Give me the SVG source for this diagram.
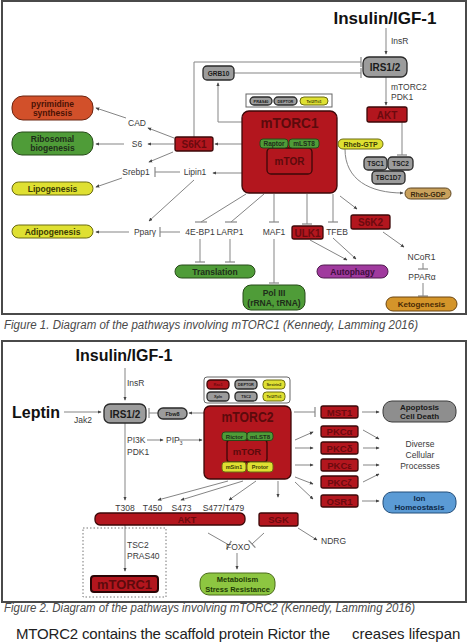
<svg xmlns="http://www.w3.org/2000/svg" width="474" height="642" viewBox="0 0 474 642">
<defs>
<marker id="a" viewBox="0 0 6 6" refX="5" refY="3" markerWidth="4" markerHeight="4" orient="auto"><path d="M0,0.5L6,3L0,5.5z" fill="#444"/></marker>
<marker id="t" viewBox="0 0 2 10" refX="1" refY="5" markerWidth="2" markerHeight="10" orient="auto" markerUnits="userSpaceOnUse"><path d="M1,0V10" stroke="#888" stroke-width="1.2"/></marker>
<style>
text{font-family:"Liberation Sans",Arial,sans-serif}
.frame{fill:#fff;stroke:#4a4a4a;stroke-width:2}
.red{fill:#b3161e;stroke:#3d0808;stroke-width:1.3}
.gray{fill:#9c9c9c;stroke:#2a2a2a;stroke-width:1.3}
.green{fill:#4f9c38;stroke:#264a18;stroke-width:1}
.yellow{fill:#dfe032;stroke:#6a6a10;stroke-width:1}
.orange{fill:#d2502a;stroke:#6b2410;stroke-width:1}
.purple{fill:#a03a9e;stroke:#4e1a4c;stroke-width:1}
.keto{fill:#d4952a;stroke:#6b4510;stroke-width:1}
.gdp{fill:#c9a15c;stroke:#5a4320;stroke-width:1}
.blue{fill:#5b9bd5;stroke:#234e7a;stroke-width:1}
.lime{fill:#8dc641;stroke:#4a6b1a;stroke-width:1}
.hdr{fill:#fff;stroke:#666;stroke-width:1}
.ln{stroke:#858585;stroke-width:1;fill:none}
.ar{marker-end:url(#a)}
.in{marker-end:url(#t)}
.bar{stroke:#888;stroke-width:1.2}
.lbl{font-size:8.5px;fill:#3a3a3a}
.c{text-anchor:middle}
.b{font-weight:bold}
.tr{font-weight:bold;fill:#6b0a0e;text-anchor:middle}
.tg{font-weight:bold;fill:#1e2e1a;text-anchor:middle}
.ty{font-weight:bold;fill:#3b3b05;text-anchor:middle}
.tk{font-weight:bold;fill:#1a1a1a;text-anchor:middle}
.cap{font-size:12px;font-style:italic;fill:#4a4a4a}
</style>
</defs>

<rect class="frame" x="2" y="1" width="464" height="313"/>
<rect class="frame" x="2" y="341" width="464" height="261"/>

<g id="connectors">
<!-- figure 1 -->
<path class="ln ar" d="M386,28V54"/>
<path class="ln in" d="M194,137V62H361"/>
<path class="ln in" d="M234,73H361"/>
<path class="ln ar" d="M242,122H218V83"/>
<path class="ln ar" d="M242,144H215"/>
<path class="ln ar" d="M174,138L148,128"/>
<path class="ln ar" d="M126,118L96,108"/>
<path class="ln ar" d="M174,144H148"/>
<path class="ln ar" d="M124,144H96"/>
<path class="ln ar" d="M242,173H213"/>
<path class="ln in" d="M180,172H155"/>
<path class="ln ar" d="M173,152L149,162"/>
<path class="ln ar" d="M122,178L96,187"/>
<path class="ln ar" d="M194,180L149,221"/>
<path class="ln in" d="M180,232H160"/>
<path class="ln ar" d="M129,232H96"/>
<path class="ln" d="M246,194L201,222"/>
<path class="bar" d="M195,222H207"/>
<path class="ln" d="M264,194L231,222"/>
<path class="bar" d="M225,222H237"/>
<path class="ln" d="M200,239V262"/>
<path class="bar" d="M195,262H205"/>
<path class="ln" d="M230,239V262"/>
<path class="bar" d="M225,262H235"/>
<path class="ln in" d="M274,194V222"/>
<path class="ln in" d="M274,239V283"/>
<path class="ln in" d="M307,194V224"/>
<path class="ln in" d="M333,194V222"/>
<path class="ln ar" d="M340,196L357,209"/>
<path class="ln ar" d="M310,240L347,260"/>
<path class="ln ar" d="M333,238L356,259"/>
<path class="ln ar" d="M383,232L404,247"/>
<path class="ln in" d="M423,263V269"/>
<path class="ln in" d="M423,283V296"/>
<path class="ln ar" d="M386,77V105"/>
<path class="ln in" d="M402,122V155"/>
<path class="ln ar" d="M345,149C345,180 370,193 403,193"/>
<!-- figure 2 -->
<path class="ln ar" d="M125,368V400"/>
<path class="ln ar" d="M64,412H101"/>
<path class="ln in" d="M158,413H149"/>
<path class="ln ar" d="M204,413H189"/>
<path class="ln ar" d="M125,423V500"/>
<path class="ln ar" d="M147,440H163"/>
<path class="ln ar" d="M178,440H202"/>
<path class="ln in" d="M294,412H315"/>
<path class="ln ar" d="M295,440L313,432"/>
<path class="ln ar" d="M295,448H313"/>
<path class="ln ar" d="M295,465H313"/>
<path class="ln ar" d="M295,477L313,484"/>
<path class="ln ar" d="M295,482L313,499"/>
<path class="ln ar" d="M362,412H379"/>
<path class="ln ar" d="M363,430L379,439"/>
<path class="ln ar" d="M363,448H379"/>
<path class="ln ar" d="M363,465H379"/>
<path class="ln ar" d="M363,482L379,474"/>
<path class="ln ar" d="M362,501H379"/>
<path class="ln ar" d="M228,481L158,500"/>
<path class="ln ar" d="M243,481L181,500"/>
<path class="ln ar" d="M256,481L229,500"/>
<path class="ln ar" d="M278,481V497"/>
<path class="ln ar" d="M298,528L317,540"/>
<path class="ln in" d="M208,533L229,545"/>
<path class="ln in" d="M264,533L252,544"/>
<path class="ln ar" d="M237,553V569"/>
<path class="ln ar" d="M125,525V571"/>
<rect x="83" y="528" width="83" height="69" fill="none" stroke="#777" stroke-width="1" stroke-dasharray="1.5,2"/>
</g>

<!-- Figure 1 nodes -->
<g id="insulin1"><text x="385" y="24" class="c b" font-size="17" fill="#111">Insulin/IGF-1</text></g>
<g id="insr1"><text x="391" y="44" class="lbl">InsR</text></g>
<g id="irs1"><rect class="gray" x="363" y="57" width="44" height="20" rx="6"/><text x="385" y="71" class="tk" font-size="10">IRS1/2</text></g>
<g id="grb10"><rect class="gray" x="203" y="66" width="31" height="14" rx="4"/><text x="218.5" y="75.5" class="tk" font-size="6.5">GRB10</text></g>
<g id="mtorc1hdr">
<rect class="hdr" x="246" y="94" width="86" height="13"/>
<rect class="gray" x="250" y="97" width="22" height="8" rx="4" stroke-width="0.8"/><text x="261" y="102.5" class="tk" font-size="3.8">PRAS40</text>
<rect class="gray" x="274" y="97" width="23" height="8" rx="4" stroke-width="0.8"/><text x="285.5" y="102.5" class="tk" font-size="3.8">DEPTOR</text>
<rect class="yellow" x="300" y="97" width="28" height="8" rx="4" stroke-width="0.8"/><text x="314" y="102.5" class="ty" font-size="3.8">Tel2/Tti1</text>
</g>
<g id="mtorc1">
<rect class="red" x="242" y="111" width="95" height="82" rx="7"/>
<text x="289.5" y="128" font-size="15" class="b c" fill="#5c0a0c" textLength="58" lengthAdjust="spacingAndGlyphs">mTORC1</text>
<rect class="red" x="267" y="148" width="45" height="26" rx="4"/>
<text x="289.5" y="165" class="b c" font-size="10" fill="#5c0a0c">mTOR</text>
<rect class="green" x="260" y="139" width="28" height="9" rx="3"/><text x="274" y="146" class="tg" font-size="6.5">Raptor</text>
<rect class="green" x="289" y="139" width="30" height="9" rx="3"/><text x="304" y="146" class="tg" font-size="6.5">mLST8</text>
</g>
<g id="s6k1"><rect class="red" x="175" y="137" width="38" height="14" rx="2"/><text x="194" y="148" class="tr" font-size="10">S6K1</text></g>
<g id="cad"><text x="137" y="126" class="lbl c">CAD</text></g>
<g id="s6"><text x="137" y="147" class="lbl c">S6</text></g>
<g id="pyrimidine"><rect class="orange" x="12" y="96" width="81" height="24" rx="11"/><text x="52.5" y="106.5" class="b c" font-size="8.5" fill="#4a1205">pyrimidine</text><text x="52.5" y="116" class="b c" font-size="8.5" fill="#4a1205">synthesis</text></g>
<g id="ribosomal"><rect class="green" x="12" y="132" width="81" height="23" rx="10"/><text x="52.5" y="141.5" class="tg" font-size="8.5">Ribosomal</text><text x="52.5" y="151" class="tg" font-size="8.5">biogenesis</text></g>
<g id="lipin1"><text x="195" y="175" class="lbl c">Lipin1</text></g>
<g id="srebp1"><text x="136" y="175" class="lbl c">Srebp1</text></g>
<g id="lipogenesis"><rect class="yellow" x="12" y="182" width="81" height="13" rx="6.5"/><text x="52.5" y="191.5" class="ty" font-size="8.5">Lipogenesis</text></g>
<g id="ppar"><text x="145" y="235" class="lbl c">Pparγ</text></g>
<g id="adipogenesis"><rect class="yellow" x="12" y="225" width="81" height="13" rx="6.5"/><text x="52.5" y="234.5" class="ty" font-size="8.5">Adipogenesis</text></g>
<g id="ebp1"><text x="200" y="235" class="lbl c">4E-BP1</text></g>
<g id="larp1"><text x="230" y="235" class="lbl c">LARP1</text></g>
<g id="translation"><rect class="green" x="175" y="265" width="80" height="13" rx="6.5"/><text x="215" y="274.5" class="tg" font-size="8.5">Translation</text></g>
<g id="maf1"><text x="274" y="235" class="lbl c">MAF1</text></g>
<g id="pol3"><rect class="green" x="243" y="285" width="62" height="25" rx="8"/><text x="274" y="295.5" class="tg" font-size="8.5">Pol III</text><text x="274" y="305.5" class="tg" font-size="8.5">(rRNA, tRNA)</text></g>
<g id="ulk1"><rect class="red" x="292" y="226" width="31" height="13" rx="2"/><text x="307.5" y="236.5" class="tr" font-size="10">ULK1</text></g>
<g id="tfeb"><text x="337" y="235" class="lbl c">TFEB</text></g>
<g id="s6k2"><rect class="red" x="351" y="215" width="39" height="14" rx="2"/><text x="370.5" y="226" class="tr" font-size="10">S6K2</text></g>
<g id="autophagy"><rect class="purple" x="317" y="265" width="71" height="13" rx="6.5"/><text x="352.5" y="274.5" class="b c" font-size="8.5" fill="#3d0f3c">Autophagy</text></g>
<g id="ncor1"><text x="421.5" y="260" class="lbl c">NCoR1</text></g>
<g id="ppara"><text x="422" y="280" class="lbl c" font-size="7">PPARα</text></g>
<g id="ketogenesis"><rect class="keto" x="386" y="297" width="71" height="14" rx="7"/><text x="421.5" y="307" class="b c" font-size="8" fill="#4a2b05">Ketogenesis</text></g>
<g id="akt1"><rect class="red" x="367" y="107" width="40" height="15" rx="2"/><text x="387" y="118.5" class="tr" font-size="10">AKT</text></g>
<g id="akt1lbl"><text x="391" y="90" class="lbl" font-size="7.5">mTORC2</text><text x="391" y="100" class="lbl" font-size="7.5">PDK1</text></g>
<g id="tsc">
<rect class="gray" x="364" y="157" width="23" height="13" rx="4"/><text x="375.5" y="166" class="tk" font-size="6.5">TSC1</text>
<rect class="gray" x="388" y="157" width="25" height="13" rx="4"/><text x="400.5" y="166" class="tk" font-size="6.5">TSC2</text>
<rect class="gray" x="372" y="171" width="33" height="13" rx="4"/><text x="388.5" y="180" class="tk" font-size="6.5">TBC1D7</text>
</g>
<g id="rhebgtp"><rect class="yellow" x="338" y="139" width="45" height="10" rx="5"/><text x="360.5" y="146.5" class="ty" font-size="7">Rheb-GTP</text></g>
<g id="rhebgdp"><rect class="gdp" x="405" y="188" width="46" height="11" rx="5.5"/><text x="428" y="196.5" class="b c" font-size="7" fill="#3a2a10">Rheb-GDP</text></g>

<g id="caption1"><text x="4" y="329" class="cap" textLength="414" lengthAdjust="spacingAndGlyphs">Figure 1. Diagram of the pathways involving mTORC1 (Kennedy, Lamming 2016)</text></g>

<!-- Figure 2 nodes -->
<g id="insulin2"><text x="124" y="361" class="c b" font-size="16" fill="#111">Insulin/IGF-1</text></g>
<g id="insr2"><text x="127" y="386" class="lbl">InsR</text></g>
<g id="leptin"><text x="12" y="418" class="b" font-size="17" fill="#111" textLength="48" lengthAdjust="spacingAndGlyphs">Leptin</text></g>
<g id="jak2"><text x="74" y="423" class="lbl">Jak2</text></g>
<g id="irs2"><rect class="gray" x="104" y="404" width="42" height="19" rx="6"/><text x="125" y="417.5" class="tk" font-size="10">IRS1/2</text></g>
<g id="fbw8"><rect class="gray" x="158" y="408" width="29" height="11" rx="5"/><text x="172.5" y="415.5" class="tk" font-size="5.5">Fbw8</text></g>
<g id="pi3k"><text x="127" y="443" class="lbl">PI3K</text><text x="127" y="455" class="lbl">PDK1</text></g>
<g id="pip3"><text x="166" y="443" class="lbl">PIP<tspan font-size="5" dy="2">3</tspan></text></g>
<g id="mtorc2hdr">
<rect class="hdr" x="204" y="377" width="86" height="26" rx="3"/>
<rect class="red" x="207" y="380" width="22" height="9" rx="3.5" stroke-width="0.8"/><text x="218" y="386" class="tr" font-size="3.8">Rac1</text>
<rect class="gray" x="235" y="380" width="22" height="9" rx="3.5" stroke-width="0.8"/><text x="246" y="386" class="tk" font-size="3.8">DEPTOR</text>
<rect class="yellow" x="263" y="380" width="22" height="9" rx="3.5" stroke-width="0.8"/><text x="274" y="386" class="ty" font-size="3.8">Sestrin2</text>
<rect class="gray" x="207" y="392" width="22" height="9" rx="3.5" stroke-width="0.8"/><text x="218" y="398" class="tk" font-size="3.8">Xpln</text>
<rect class="gray" x="235" y="392" width="22" height="9" rx="3.5" stroke-width="0.8"/><text x="246" y="398" class="tk" font-size="3.8">TSC2</text>
<rect class="yellow" x="263" y="392" width="22" height="9" rx="3.5" stroke-width="0.8"/><text x="274" y="398" class="ty" font-size="3.8">Tel2/Tti1</text>
</g>
<g id="mtorc2">
<rect class="red" x="204" y="406" width="87" height="73" rx="6"/>
<text x="247.5" y="422" font-size="15" class="b c" fill="#5c0a0c" textLength="52" lengthAdjust="spacingAndGlyphs">mTORC2</text>
<rect class="red" x="227" y="440" width="40" height="22" rx="3"/>
<text x="247" y="455" class="b c" font-size="9.5" fill="#5c0a0c">mTOR</text>
<rect class="green" x="222" y="432" width="25" height="8.5" rx="3"/><text x="234.5" y="438.5" class="tg" font-size="6">Rictor</text>
<rect class="green" x="247" y="432" width="26" height="8.5" rx="3"/><text x="260" y="438.5" class="tg" font-size="6">mLST8</text>
<rect class="yellow" x="222" y="462" width="24" height="10" rx="3"/><text x="234" y="469" class="ty" font-size="5.5">mSin1</text>
<rect class="yellow" x="247" y="462" width="26" height="10" rx="3"/><text x="260" y="469" class="ty" font-size="5.5">Protor</text>
</g>
<g id="mst1"><rect class="red" x="321" y="406" width="37" height="12" rx="2"/><text x="339.5" y="415.5" class="tr" font-size="9.5">MST1</text></g>
<g id="pkca"><rect class="red" x="321" y="426" width="37" height="11" rx="2"/><text x="339.5" y="435" class="tr" font-size="9.5">PKCα</text></g>
<g id="pkcd"><rect class="red" x="321" y="442" width="37" height="12" rx="2"/><text x="339.5" y="451.5" class="tr" font-size="9.5">PKCδ</text></g>
<g id="pkce"><rect class="red" x="321" y="459" width="37" height="12" rx="2"/><text x="339.5" y="468.5" class="tr" font-size="9.5">PKCε</text></g>
<g id="pkcz"><rect class="red" x="321" y="476" width="37" height="12" rx="2"/><text x="339.5" y="485.5" class="tr" font-size="9.5">PKCζ</text></g>
<g id="osr1"><rect class="red" x="321" y="495" width="37" height="12" rx="2"/><text x="339.5" y="504.5" class="tr" font-size="9.5">OSR1</text></g>
<g id="apoptosis"><rect x="383" y="401" width="73" height="21" rx="9" fill="#8e8e8e" stroke="#3a3a3a" stroke-width="1"/><text x="419.5" y="409.5" class="tk" font-size="8">Apoptosis</text><text x="419.5" y="418.5" class="tk" font-size="8">Cell Death</text></g>
<g id="diverse"><text x="420" y="447" class="lbl c" font-size="8">Diverse</text><text x="420" y="458" class="lbl c" font-size="8">Cellular</text><text x="420" y="469" class="lbl c" font-size="8">Processes</text></g>
<g id="ion"><rect class="blue" x="383" y="492" width="73" height="21" rx="9"/><text x="419.5" y="500.5" class="b c" font-size="8" fill="#0e2a4a">Ion</text><text x="419.5" y="509.5" class="b c" font-size="8" fill="#0e2a4a">Homeostasis</text></g>
<g id="sites"><text x="125" y="511" class="lbl c" font-size="8">T308</text><text x="152.5" y="511" class="lbl c" font-size="8">T450</text><text x="181.5" y="511" class="lbl c" font-size="8">S473</text><text x="223.5" y="511" class="lbl c" font-size="8">S477/T479</text></g>
<g id="akt2"><rect class="red" x="95" y="513" width="150" height="12" rx="5"/><text x="187" y="522.5" class="tr" font-size="9">AKT</text></g>
<g id="sgk"><rect class="red" x="259" y="513" width="39" height="13" rx="2"/><text x="278.5" y="523" class="tr" font-size="9.5">SGK</text></g>
<g id="ndrg"><text x="321" y="544" class="lbl" font-size="7.5">NDRG</text></g>
<g id="foxo"><text x="238" y="550" class="lbl c">FOXO</text></g>
<g id="metabolism"><rect class="lime" x="200" y="573" width="75" height="22" rx="9"/><text x="237.5" y="582" class="b c" font-size="7.5" fill="#1e3a05">Metabolism</text><text x="237.5" y="591.5" class="b c" font-size="7.5" fill="#1e3a05">Stress Resistance</text></g>
<g id="tsc2lbl"><text x="127" y="548" class="lbl" font-size="8">TSC2</text><text x="127" y="559" class="lbl" font-size="8">PRAS40</text></g>
<g id="mtorc1b"><rect x="91" y="576" width="67" height="16" rx="3" fill="#b3161e" stroke="#2a0505" stroke-width="2"/><text x="124.5" y="589" class="b c" font-size="13" fill="#5c0a0c" textLength="55" lengthAdjust="spacingAndGlyphs">mTORC1</text></g>

<g id="caption2"><text x="4" y="612" class="cap" textLength="411" lengthAdjust="spacingAndGlyphs">Figure 2. Diagram of the pathways involving mTORC2 (Kennedy, Lamming 2016)</text></g>
<g id="bodytext"><text x="16" y="639" font-size="15" fill="#222" textLength="314" lengthAdjust="spacing">MTORC2 contains the scaffold protein Rictor the</text><text x="352" y="639" font-size="15" fill="#222">creases lifespan</text></g>
</svg>
